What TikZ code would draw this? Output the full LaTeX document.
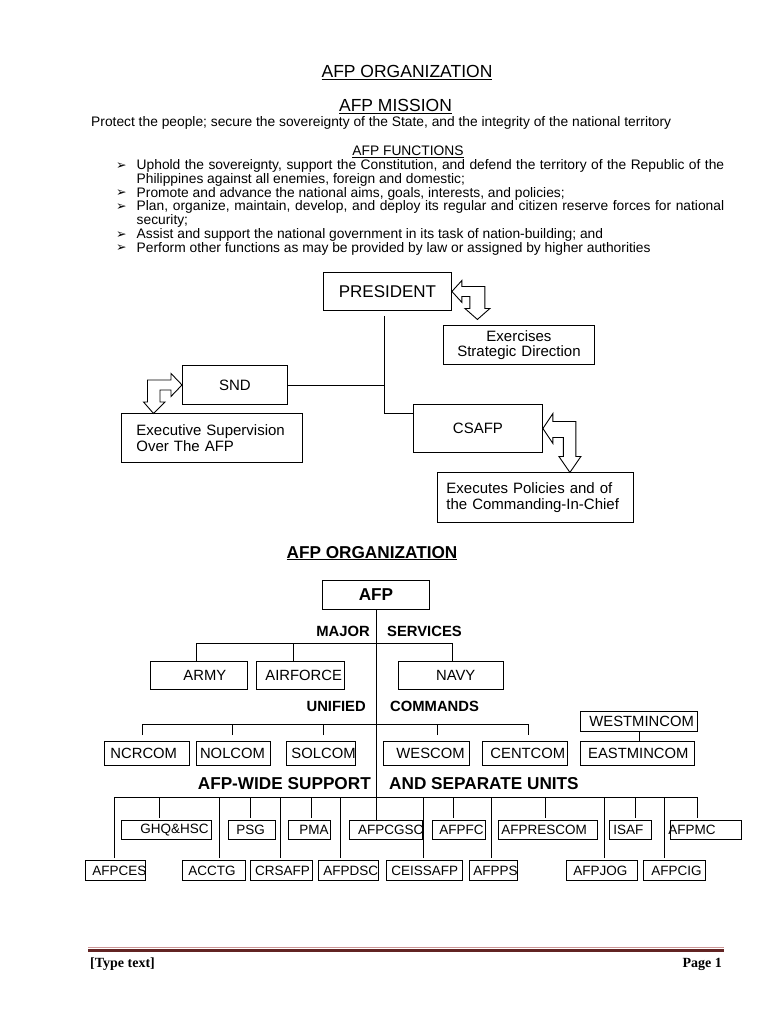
\documentclass[tikz,border=0pt]{standalone}
\usepackage{fontspec}
\setmainfont{Liberation Sans}
\newfontfamily\dejavu{DejaVu Sans}
\newfontfamily\footserif{Liberation Serif}
\usetikzlibrary{calc}
\definecolor{footdark}{RGB}{98,36,35}
\definecolor{footpink}{RGB}{205,150,150}
\newcommand{\ubx}[3]{\makebox[#1pt][l]{\hspace*{#2pt}#3}}
\newcommand{\bulmark}{\makebox[20.5pt][l]{\raisebox{0.3pt}{\dejavu\fontsize{12.5}{12.5}\selectfont ➢}}}
\newcommand{\fsTitle}{\fontsize{17.5}{18}\selectfont}
\newcommand{\fsBody}{\fontsize{13.8}{13.8}\selectfont}
\newcommand{\fsMid}{\fontsize{15}{15.5}\selectfont}
\newcommand{\fsPres}{\fontsize{17}{18}\selectfont}
\newcommand{\fsBoldBig}{\bfseries\fontsize{17.2}{18}\selectfont}
\newcommand{\fsBoldMid}{\bfseries\fontsize{14.8}{15}\selectfont}
\newcommand{\fsBox}{\fontsize{14.8}{15}\selectfont}
\newcommand{\fsSmall}{\fontsize{13.5}{14}\selectfont}
\begin{document}
\begin{tikzpicture}[x=1pt,y=-1pt,
  bx/.style={draw, line width=0.9pt, inner sep=0pt, anchor=north west},
  ln/.style={line width=0.9pt},
  barrow/.style={draw, fill=white, line width=0.9pt, line join=miter},
  txt/.style={inner sep=0pt}]
\fill[white] (0,0) rectangle (768,1024);
\useasboundingbox (0,0) rectangle (768,1024);

% ---------- header texts ----------
\node[txt, anchor=base, font=\fsTitle] (t1) at (407,77.5) {\underline{AFP ORGANIZATION}};
\node[txt, anchor=base, font=\fsTitle] (t2) at (395.5,112) {\underline{AFP MISSION}};
\node[txt, anchor=base west, font=\fsBody] (mis) at (91,127) {Protect the people; secure the sovereignty of the State, and the integrity of the national territory};
\node[txt, anchor=base, font=\fsBody] (t3) at (408,156) {\underline{AFP FUNCTIONS}};

\node[txt, anchor=base west, font=\fsBody] (l1) at (116,170) {\bulmark\makebox[587.5pt][s]{Uphold the sovereignty, support the Constitution, and defend the territory of the Republic of the}};
\node[txt, anchor=base west, font=\fsBody] (l1b) at (136.5,183.7) {Philippines against all enemies, foreign and domestic;};
\node[txt, anchor=base west, font=\fsBody] (l2) at (116,197.3) {\bulmark Promote and advance the national aims, goals, interests, and policies;};
\node[txt, anchor=base west, font=\fsBody] (l3) at (116,211) {\bulmark\makebox[587.5pt][s]{Plan, organize, maintain, develop, and deploy its regular and citizen reserve forces for national}};
\node[txt, anchor=base west, font=\fsBody] (l3b) at (136.5,224.7) {security;};
\node[txt, anchor=base west, font=\fsBody] (l4) at (116,238.3) {\bulmark Assist and support the national government in its task of nation-building; and};
\node[txt, anchor=base west, font=\fsBody] (l5) at (116,252) {\bulmark Perform other functions as may be provided by law or assigned by higher authorities};

% ---------- upper diagram ----------
\node[bx, minimum width=128pt, minimum height=38pt, font=\fsPres] (pres) at (323,272) {PRESIDENT};
\node[bx, minimum height=39pt, text width=141pt, inner xsep=5pt, align=center, font=\fsMid] (exdir) at (443,325) {Exercises\\Strategic Direction};
\node[bx, minimum width=105pt, minimum height=39pt, font=\fsMid] (snd) at (182,365) {SND};
\node[bx, minimum height=49pt, text width=151pt, inner xsep=15pt, align=left, font=\fsMid] (exsup) at (121,413) {Executive Supervision\\Over The AFP};
\node[bx, minimum width=129pt, minimum height=48pt, font=\fsMid] (csafp) at (413,404) {CSAFP};
\node[bx, minimum height=50pt, text width=178pt, inner xsep=9pt, align=left, font=\fsMid] (expol) at (437,472) {Executes Policies and of\\the Commanding-In-Chief};

\coordinate (jcs) at (384,413);
\draw[ln] ([yshift=-5pt]pres.south -| jcs) -- (jcs) -- (jcs -| csafp.west);
\draw[ln] (snd.east) -- (snd.east -| jcs);

% block arrows
\draw[barrow, shift={(pres.east)}] (0,0) -- (10,-11) -- (10,-5) -- (33,-5) -- (33,17) -- (38,17) -- (25.5,28) -- (13,17) -- (18,17) -- (18,5) -- (10,5) -- (10,11) -- cycle;
\draw[barrow, shift={(snd.west)}] (0,0) -- (-11,-11.5) -- (-11,-5) -- (-34.5,-5) -- (-34.5,17) -- (-38.5,17) -- (-28.5,28.5) -- (-17,17) -- (-22,17) -- (-22,5) -- (-11,5) -- (-11,11.5) -- cycle;
\draw[barrow, shift={(csafp.east)}] (0,0) -- (10,-15) -- (10,-7) -- (33,-7) -- (33,28) -- (38,28) -- (27,44) -- (16,28) -- (20.5,28) -- (20.5,9) -- (10,9) -- (10,15) -- cycle;

% ---------- lower chart ----------
\node[txt, anchor=base, font=\fsBoldBig] (t4) at (372,558) {\underline{AFP ORGANIZATION}};
\node[bx, minimum width=107pt, minimum height=29pt, font=\fsBoldBig] (afp) at (322,580) {AFP};

\node[txt, anchor=base east, font=\fsBoldMid] (major) at (370,636.3) {MAJOR};
\node[txt, anchor=base west, font=\fsBoldMid] (services) at (387,636.3) {SERVICES};
\node[txt, anchor=base east, font=\fsBoldMid] (unified) at (366,711.3) {UNIFIED};
\node[txt, anchor=base west, font=\fsBoldMid] (commands) at (390,711.3) {COMMANDS};
\node[txt, anchor=base east, font=\fsBoldBig] (afpwide) at (371,789.2) {AFP-WIDE SUPPORT};
\node[txt, anchor=base west, font=\fsBoldBig] (sepunits) at (389,789.2) {AND SEPARATE UNITS};

\node[bx, minimum height=28pt, font=\fsBox] (army) at (150,661) {\ubx{97}{33}{ARMY}};
\node[bx, minimum height=28pt, font=\fsBox] (airforce) at (256,661) {\ubx{88}{9}{AIRFORCE}};
\node[bx, minimum height=28pt, font=\fsBox] (navy) at (398,661) {\ubx{105}{37.7}{NAVY}};

\node[bx, minimum height=24pt, font=\fsBox] (ncrcom) at (104,741) {\ubx{85}{6}{NCRCOM}};
\node[bx, minimum height=24pt, font=\fsBox] (nolcom) at (196,741) {\ubx{74}{3.6}{NOLCOM}};
\node[bx, minimum height=24pt, font=\fsBox] (solcom) at (286,741) {\ubx{69}{5}{SOLCOM}};
\node[bx, minimum height=24pt, font=\fsBox] (wescom) at (383,741) {\ubx{86}{13}{WESCOM}};
\node[bx, minimum height=24pt, font=\fsBox] (centcom) at (482,741) {\ubx{85}{8}{CENTCOM}};
\node[bx, minimum height=24pt, font=\fsBox] (eastmincom) at (580,741) {\ubx{114}{7.7}{EASTMINCOM}};
\node[bx, minimum height=20pt, font=\fsBox] (westmincom) at (580,711) {\ubx{117}{9}{WESTMINCOM}};

% top row of support units
\node[bx, minimum height=19pt, font=\fsSmall] (ghq) at (121,820) {\ubx{90}{19}{GHQ\&HSC}};
\node[bx, minimum height=19pt, font=\fsSmall] (psg) at (228,820) {\ubx{47}{8}{PSG}};
\node[bx, minimum height=19pt, font=\fsSmall] (pma) at (288,820) {\ubx{42}{11}{PMA}};
\node[bx, minimum height=19pt, font=\fsSmall] (afpcgsc) at (349,820) {\ubx{73}{8.6}{AFPCGSC}};
\node[bx, minimum height=19pt, font=\fsSmall] (afpfc) at (432,820) {\ubx{53}{7}{AFPFC}};
\node[bx, minimum height=19pt, font=\fsSmall] (afprescom) at (498,820) {\ubx{99}{3}{AFPRESCOM}};
\node[bx, minimum height=19pt, font=\fsSmall] (isaf) at (609,820) {\ubx{42}{4}{ISAF}};
\node[bx, minimum height=19pt, font=\fsSmall] (afpmc) at (670,820) {\ubx{71}{-2}{AFPMC}};
% bottom row
\node[bx, minimum height=20pt, font=\fsSmall] (afpces) at (85,860) {\ubx{60}{7}{AFPCES}};
\node[bx, minimum height=20pt, font=\fsSmall] (acctg) at (182,860) {\ubx{63}{6}{ACCTG}};
\node[bx, minimum height=20pt, font=\fsSmall] (crsafp) at (250,860) {\ubx{62}{4.6}{CRSAFP}};
\node[bx, minimum height=20pt, font=\fsSmall] (afpdsc) at (318,860) {\ubx{60}{5}{AFPDSC}};
\node[bx, minimum height=20pt, font=\fsSmall] (ceissafp) at (386,860) {\ubx{76}{5}{CEISSAFP}};
\node[bx, minimum height=20pt, font=\fsSmall] (afpps) at (469,860) {\ubx{48}{4}{AFPPS}};
\node[bx, minimum height=20pt, font=\fsSmall] (afpjog) at (566,860) {\ubx{71}{7}{AFPJOG}};
\node[bx, minimum height=20pt, font=\fsSmall] (afpcig) at (643,860) {\ubx{62}{8}{AFPCIG}};

% main trunk
\draw[ln] (afp.south) -- (afp.south |- afpcgsc.north);

% major services bracket
\coordinate (mb) at (0,643);
\draw[ln] ($(army.north)+(-2.5,0)$) -- ($(army.north |- mb)+(-2.5,0)$) -- ($(navy.north |- mb)+(1.5,0)$) -- ($(navy.north)+(1.5,0)$);
\draw[ln] ($(airforce.north)+(-7,0)$) -- ($(airforce.north |- mb)+(-7,0)$);

% unified commands bracket
\coordinate (ub) at (0,724);
\draw[ln] ($(ncrcom.north)+(-4.5,-6)$) -- ($(ncrcom.north |- ub)+(-4.5,0)$) -- ($(centcom.north |- ub)+(3.5,0)$) -- ($(centcom.north)+(3.5,-6)$);
\draw[ln] ($(nolcom.north)+(-1,-6)$) -- ($(nolcom.north |- ub)+(-1,0)$);
\draw[ln] ($(solcom.north)+(2.5,-6)$) -- ($(solcom.north |- ub)+(2.5,0)$);
\draw[ln] ($(wescom.north)+(11,-6)$) -- ($(wescom.north |- ub)+(11,0)$);
\draw[ln] (westmincom.south) -- (westmincom.south |- eastmincom.north);

% support units bracket
\coordinate (bb) at (0,797);
\draw[ln] ($(afpces.north |- bb)+(-1,0)$) -- ($(afpmc.north |- bb)+(-8.5,0)$);
\foreach \n/\d in {ghq/-7, psg/-1.5, pma/2, afpfc/-5.5, afprescom/-2.5, isaf/4.5, afpmc/-8.5,
                   afpces/-1, acctg/5.5, crsafp/-1, afpdsc/-8, ceissafp/-1, afpps/-2, afpjog/2.5, afpcig/-10}
  \draw[ln] ($(\n.north)+(\d,-2)$) -- ($(\n.north |- bb)+(\d,0)$);

% ---------- footer ----------
\draw[line width=0.8pt, footpink] (88,947) -- (724,947);
\draw[line width=2.6pt, footdark] (88,950.5) -- (724,950.5);
\node[txt, anchor=base west, font=\footserif\bfseries\fontsize{14}{14}\selectfont] (ftl) at (90,967.5) {[Type text]};
\node[txt, anchor=base east, font=\footserif\bfseries\fontsize{14}{14}\selectfont] (ftr) at (722,967.5) {Page 1};
\end{tikzpicture}
\end{document}
